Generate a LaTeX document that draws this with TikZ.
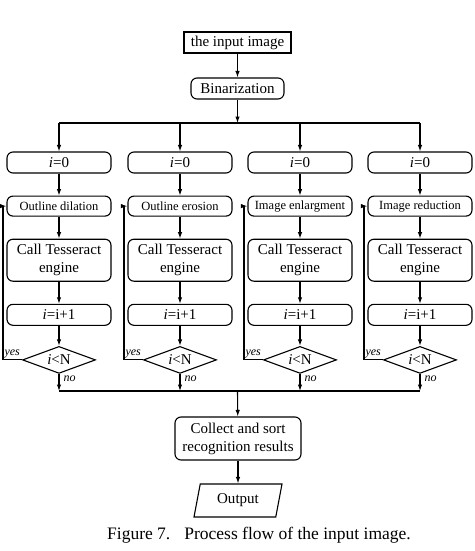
\documentclass[tikz,border=0pt]{standalone}
\usepackage{fontspec}
\setmainfont{Liberation Serif}
\usepackage{tikz}
\usetikzlibrary{positioning,arrows.meta,shapes.geometric}

\begin{document}
\begin{tikzpicture}[
    x=1pt,y=-1pt,
    line width=1.1pt,
    >={Latex[length=6.5pt,width=4.5pt]},
    box/.style={draw,align=center,inner sep=2pt,font=\fontsize{15}{18}\selectfont},
    rbox/.style={box,rounded corners=6pt},
    opbox/.style={rbox,font=\fontsize{12.5}{15}\selectfont},
    test/.style={draw,diamond,aspect=2.7,inner sep=0pt,minimum width=73pt,minimum height=27pt,font=\fontsize{15}{18}\selectfont},
    io/.style={draw,trapezium,trapezium left angle=70,trapezium right angle=110,trapezium stretches body,minimum width=88pt,minimum height=33pt,inner sep=2pt,font=\fontsize{15}{18}\selectfont},
    lbl/.style={inner sep=1pt,font=\fontsize{12}{14}\itshape},
    node distance=22pt
  ]
    \useasboundingbox (0,0) rectangle (474,551);
    \node[box,minimum width=107pt,minimum height=21pt] (input) at (237.5,42.5) {the input image};
    \node[rbox,minimum width=93pt,minimum height=21pt] (bin) at (237.5,88.5) {Binarization};
    \coordinate (split) at (237.5,123);
    \draw[->] (input) -- (bin);
    \draw[->] (bin) -- (split);

    % four branches
    \foreach \i/\x/\op in {1/59/Outline dilation,2/180/Outline erosion,3/300/Image enlargment,4/420/Image reduction}{
      \node[rbox,minimum width=104pt,minimum height=21pt] (zero\i) at (\x,162.5) {\textit{i}=0};
      \node[opbox,minimum width=104pt,minimum height=20pt,below=of zero\i] (op\i) {\op};
      \node[rbox,minimum width=104pt,minimum height=42pt,below=of op\i] (call\i) {Call Tesseract\\engine};
      \node[rbox,minimum width=104pt,minimum height=21pt,below=of call\i] (inc\i) {\textit{i}=i+1};
      \node[test,below=20pt of inc\i] (test\i) {\textit{i}<N};
      \coordinate (back\i) at ([xshift=-56pt]test\i.center);
      \node[lbl,anchor=south west] (yes\i) at (back\i) {yes};
      \node[lbl,anchor=north west,xshift=3pt] (no\i) at (test\i.south) {no};
      \draw[->] (zero\i.north |- split) -- (zero\i);
      \draw[->] (zero\i) -- (op\i);
      \draw[->] (op\i) -- (call\i);
      \draw[->] (call\i) -- (inc\i);
      \draw[->] (inc\i) -- (test\i);
      \draw[->] (test\i.west) -- (back\i) |- (op\i.west);
    }
    \draw (zero1.north |- split) -- (zero4.north |- split);

    \coordinate (join) at (237.5,391);
    \draw (test1.south |- join) -- (test4.south |- join);
    \foreach \i in {1,...,4}
      \draw[->] (test\i.south) -- (test\i.south |- join);

    \node[rbox,minimum width=126pt,minimum height=43pt] (collect) at (238,438.5) {Collect and sort\\recognition results};
    \node[io] (output) at (238,500.5) {Output};
    \draw[->] (join) -- (collect);
    \draw[->] (collect) -- (output);

    \node[anchor=base,inner sep=0pt,font=\fontsize{17.5}{20}\selectfont] (caption) at (259,539) {Figure 7.\hspace{14pt}Process flow of the input image.};
\end{tikzpicture}
\end{document}
